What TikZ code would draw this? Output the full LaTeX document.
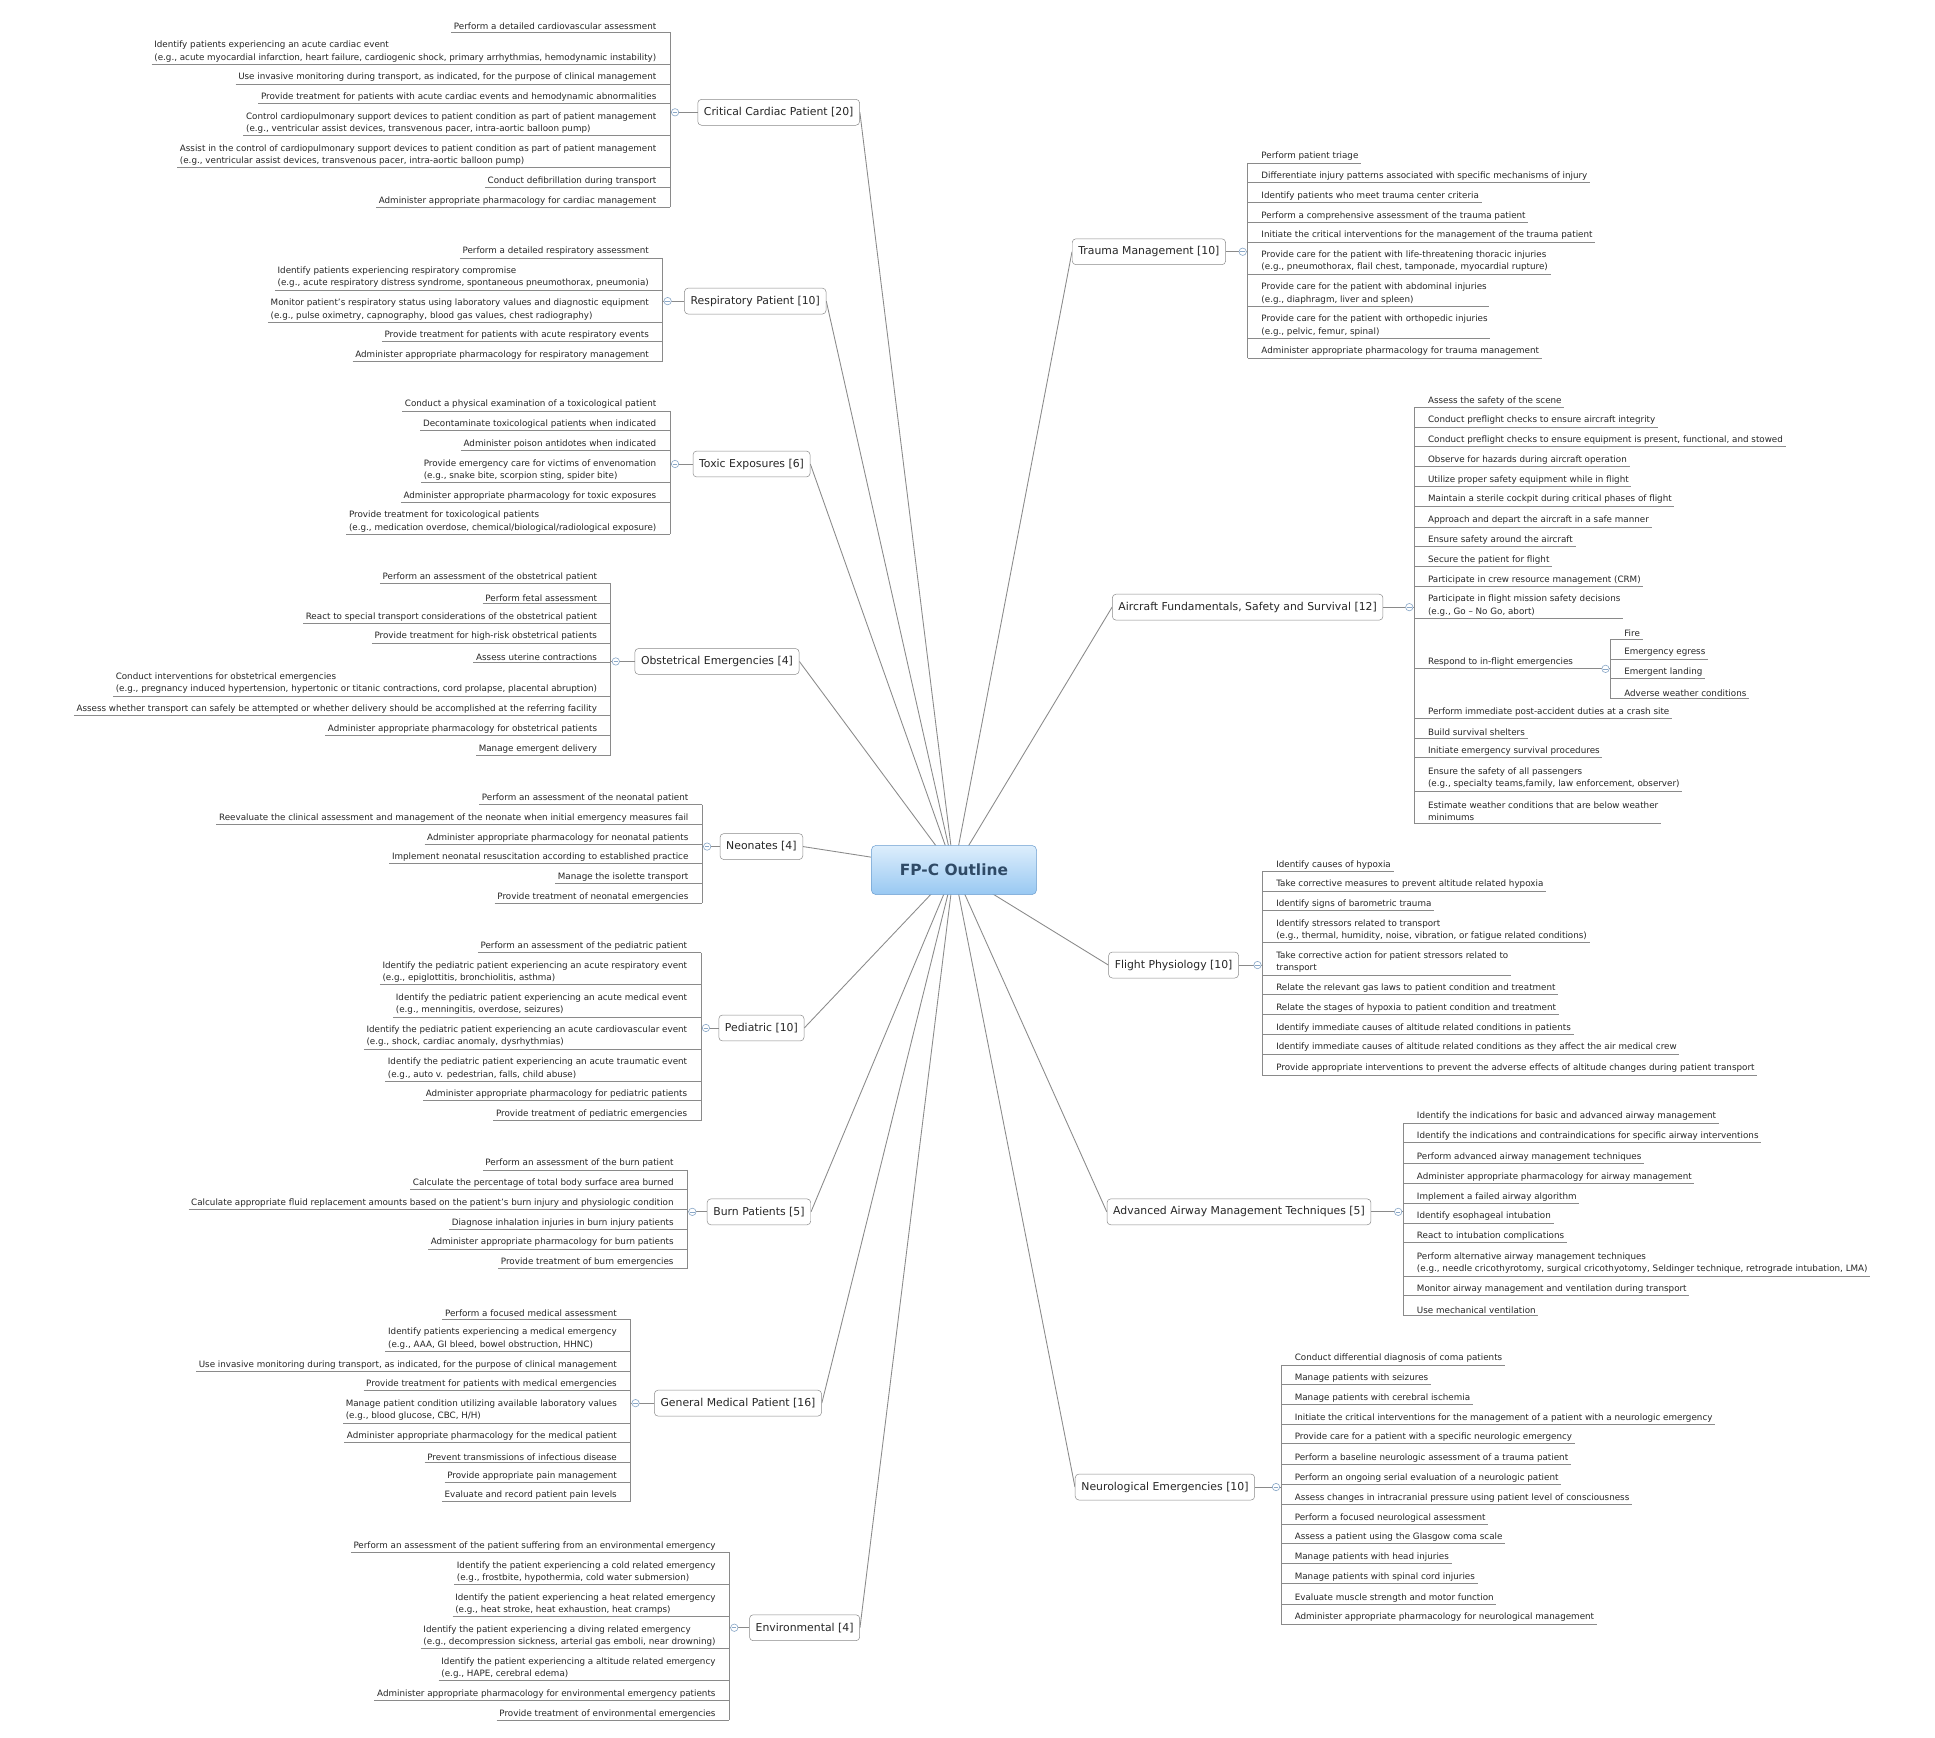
\documentclass[tikz,border=0pt]{standalone}
\usepackage{fontspec}
\setmainfont{DejaVu Sans}
\usetikzlibrary{backgrounds}
\definecolor{lc}{HTML}{8A8A8A}
\definecolor{tc}{HTML}{262626}
\definecolor{kc}{HTML}{8AA8C8}
\definecolor{ctop}{HTML}{DDEEFC}
\definecolor{cbot}{HTML}{98C8F2}
\definecolor{cbd}{HTML}{6E9FD0}
\definecolor{ctxt}{HTML}{2F4A66}
\tikzset{
 leaf/.style={font=\fontsize{7.1}{10}\selectfont, text=tc, inner xsep=2pt, inner ysep=1.6pt, align=left},
 ul/.style={draw=lc, line width=0.6pt},
 br/.style={draw=lc, fill=white, rounded corners=3pt, font=\fontsize{8.8}{10}\selectfont, text=tc, inner xsep=5pt, minimum height=21pt},
 knob/.style={circle, draw=kc, fill=white, minimum size=6pt, inner sep=0pt, line width=0.5pt,
   path picture={\draw[kc,line width=0.5pt] ([xshift=-1.8pt]path picture bounding box.center) -- ([xshift=1.8pt]path picture bounding box.center);}},
 conn/.style={draw=lc, line width=0.7pt},
}
\newcommand\LG[5]{%
 \foreach \u/\t [count=\i] in {#5} {%
  \node[leaf, anchor=south east] (#2\i) at ({#1-9},\u) {\t};
  \draw[ul] (#2\i.south west) -- (#1,\u);}
 \draw[ul] (#1,#3) -- (#1,#4);}
\newcommand\RG[5]{%
 \foreach \u/\t [count=\i] in {#5} {%
  \node[leaf, anchor=south west] (#2\i) at ({#1+9},\u) {\t};
  \draw[ul] (#1,\u) -- (#2\i.south east);}
 \draw[ul] (#1,#3) -- (#1,#4);}
\newcommand\BL[5]{%
 \node[br] (#1) at (#2,#3) {#5};
 \draw[ul] (#1.west) -- (#4,#3);
 \node[knob] (#1k) at ({#4+4},#3) {};
 \begin{scope}[on background layer]\draw[conn] (ctr.center) -- (#1.east);\end{scope}}
\newcommand\BR[5]{%
 \node[br] (#1) at (#2,#3) {#5};
 \draw[ul] (#1.east) -- (#4,#3);
 \node[knob] (#1k) at ({#4-4},#3) {};
 \begin{scope}[on background layer]\draw[conn] (ctr.center) -- (#1.west);\end{scope}}
\begin{document}
\begin{tikzpicture}[x=1pt,y=-1pt]
\useasboundingbox (0,0) rectangle (1568,1408);
\begin{scope}[on background layer]\fill[white] (0,0) rectangle (1568,1408);\end{scope}
\node[draw=cbd, rounded corners=4pt, top color=ctop, bottom color=cbot, minimum width=134pt, minimum height=40pt,
  font=\bfseries\fontsize{12.5}{14}\selectfont, text=ctxt] (ctr) at (773,705) {FP-C Outline};

% ---------- LEFT ----------
\BL{cc}{631}{91}{543}{Critical Cardiac Patient [20]}
\LG{543}{cc}{26}{168}{26/{Perform a detailed cardiovascular assessment},
52/{Identify patients experiencing an acute cardiac event\\(e.g., acute myocardial infarction, heart failure, cardiogenic shock, primary arrhythmias, hemodynamic instability)},
68/{Use invasive monitoring during transport, as indicated, for the purpose of clinical management},
84/{Provide treatment for patients with acute cardiac events and hemodynamic abnormalities},
110/{Control cardiopulmonary support devices to patient condition as part of patient management\\(e.g., ventricular assist devices, transvenous pacer, intra-aortic balloon pump)},
136/{Assist in the control of cardiopulmonary support devices to patient condition as part of patient management\\(e.g., ventricular assist devices, transvenous pacer, intra-aortic balloon pump)},
152/{Conduct defibrillation during transport},
168/{Administer appropriate pharmacology for cardiac management}}

\BL{rp}{612}{244}{537}{Respiratory Patient [10]}
\LG{537}{rp}{209}{293}{209/{Perform a detailed respiratory assessment},
235/{Identify patients experiencing respiratory compromise\\(e.g., acute respiratory distress syndrome, spontaneous pneumothorax, pneumonia)},
261/{Monitor patient’s respiratory status using laboratory values and diagnostic equipment\\(e.g., pulse oximetry, capnography, blood gas values, chest radiography)},
277/{Provide treatment for patients with acute respiratory events},
293/{Administer appropriate pharmacology for respiratory management}}

\BL{tx}{609}{376}{543}{Toxic Exposures [6]}
\LG{543}{tx}{333}{433}{333/{Conduct a physical examination of a toxicological patient},
349/{Decontaminate toxicological patients when indicated},
365/{Administer poison antidotes when indicated},
391/{Provide emergency care for victims of envenomation\\(e.g., snake bite, scorpion sting, spider bite)},
407/{Administer appropriate pharmacology for toxic exposures},
433/{Provide treatment for toxicological patients\\(e.g., medication overdose, chemical/biological/radiological exposure)}}

\BL{ob}{581}{536}{495}{Obstetrical Emergencies [4]}
\LG{495}{ob}{473}{612}{473/{Perform an assessment of the obstetrical patient},
489/{Perform fetal assessment},
505/{React to special transport considerations of the obstetrical patient},
521/{Provide treatment for high-risk obstetrical patients},
537/{Assess uterine contractions},
564/{Conduct interventions for obstetrical emergencies\\(e.g., pregnancy induced hypertension, hypertonic or titanic contractions, cord prolapse, placental abruption)},
580/{Assess whether transport can safely be attempted or whether delivery should be accomplished at the referring facility},
596/{Administer appropriate pharmacology for obstetrical patients},
612/{Manage emergent delivery}}

\BL{ne}{617}{686}{569}{Neonates [4]}
\LG{569}{ne}{652}{732}{652/{Perform an assessment of the neonatal patient},
668/{Reevaluate the clinical assessment and management of the neonate when initial emergency measures fail},
684/{Administer appropriate pharmacology for neonatal patients},
700/{Implement neonatal resuscitation according to established practice},
716/{Manage the isolette transport},
732/{Provide treatment of neonatal emergencies}}

\BL{pd}{617}{833}{568}{Pediatric [10]}
\LG{568}{pd}{772}{908}{772/{Perform an assessment of the pediatric patient},
798/{Identify the pediatric patient experiencing an acute respiratory event\\(e.g., epiglottitis, bronchiolitis, asthma)},
824/{Identify the pediatric patient experiencing an acute medical event\\(e.g., menningitis, overdose, seizures)},
850/{Identify the pediatric patient experiencing an acute cardiovascular event\\(e.g., shock, cardiac anomaly, dysrhythmias)},
876/{Identify the pediatric patient experiencing an acute traumatic event\\(e.g., auto v. pedestrian, falls, child abuse)},
892/{Administer appropriate pharmacology for pediatric patients},
908/{Provide treatment of pediatric emergencies}}

\BL{bu}{615}{982}{557}{Burn Patients [5]}
\LG{557}{bu}{948}{1028}{948/{Perform an assessment of the burn patient},
964/{Calculate the percentage of total body surface area burned},
980/{Calculate appropriate fluid replacement amounts based on the patient’s burn injury and physiologic condition},
996/{Diagnose inhalation injuries in burn injury patients},
1012/{Administer appropriate pharmacology for burn patients},
1028/{Provide treatment of burn emergencies}}

\BL{gm}{598}{1137}{511}{General Medical Patient [16]}
\LG{511}{gm}{1069}{1217}{1069/{Perform a focused medical assessment},
1095/{Identify patients experiencing a medical emergency\\(e.g., AAA, GI bleed, bowel obstruction, HHNC)},
1111/{Use invasive monitoring during transport, as indicated, for the purpose of clinical management},
1127/{Provide treatment for patients with medical emergencies},
1153/{Manage patient condition utilizing available laboratory values\\(e.g., blood glucose, CBC, H/H)},
1169/{Administer appropriate pharmacology for the medical patient},
1185/{Prevent transmissions of infectious disease},
1201/{Provide appropriate pain management},
1217/{Evaluate and record patient pain levels}}

\BL{en}{652}{1319}{591}{Environmental [4]}
\LG{591}{en}{1258}{1394}{1258/{Perform an assessment of the patient suffering from an environmental emergency},
1284/{Identify the patient experiencing a cold related emergency\\(e.g., frostbite, hypothermia, cold water submersion)},
1310/{Identify the patient experiencing a heat related emergency\\(e.g., heat stroke, heat exhaustion, heat cramps)},
1336/{Identify the patient experiencing a diving related emergency\\(e.g., decompression sickness, arterial gas emboli, near drowning)},
1362/{Identify the patient experiencing a altitude related emergency\\(e.g., HAPE, cerebral edema)},
1378/{Administer appropriate pharmacology for environmental emergency patients},
1394/{Provide treatment of environmental emergencies}}

% ---------- RIGHT ----------
\BR{tm}{931}{204}{1011}{Trauma Management [10]}
\RG{1011}{tm}{132}{290}{132/{Perform patient triage},
148/{Differentiate injury patterns associated with specific mechanisms of injury},
164/{Identify patients who meet trauma center criteria},
180/{Perform a comprehensive assessment of the trauma patient},
196/{Initiate the critical interventions for the management of the trauma patient},
222/{Provide care for the patient with life-threatening thoracic injuries\\(e.g., pneumothorax, flail chest, tamponade, myocardial rupture)},
248/{Provide care for the patient with abdominal injuries\\(e.g., diaphragm, liver and spleen)},
274/{Provide care for the patient with orthopedic injuries\\(e.g., pelvic, femur, spinal)},
290/{Administer appropriate pharmacology for trauma management}}

\BR{af}{1011}{492}{1146}{Aircraft Fundamentals, Safety and Survival [12]}
\RG{1146}{af}{330}{667}{330/{Assess the safety of the scene},
346/{Conduct preflight checks to ensure aircraft integrity},
362/{Conduct preflight checks to ensure equipment is present, functional, and stowed},
378/{Observe for hazards during aircraft operation},
394/{Utilize proper safety equipment while in flight},
410/{Maintain a sterile cockpit during critical phases of flight},
427/{Approach and depart the aircraft in a safe manner},
443/{Ensure safety around the aircraft},
459/{Secure the patient for flight},
475/{Participate in crew resource management (CRM)},
501/{Participate in flight mission safety decisions\\(e.g., Go – No Go, abort)},
542/{Respond to in-flight emergencies},
582/{Perform immediate post-accident duties at a crash site},
598/{Build survival shelters},
614/{Initiate emergency survival procedures},
641/{Ensure the safety of all passengers\\(e.g., specialty teams,family, law enforcement, observer)},
667/{Estimate weather conditions that are below weather\\minimums}}
\draw[ul] (af12.south east) -- (1305,542);
\node[knob] (afk2) at (1301,542) {};
\RG{1305}{sub}{518}{566}{518/{Fire},534/{Emergency egress},550/{Emergent landing},566/{Adverse weather conditions}}

\BR{fp}{951}{782}{1023}{Flight Physiology [10]}
\RG{1023}{fp}{706}{871}{706/{Identify causes of hypoxia},
722/{Take corrective measures to prevent altitude related hypoxia},
738/{Identify signs of barometric trauma},
764/{Identify stressors related to transport\\(e.g., thermal, humidity, noise, vibration, or fatigue related conditions)},
790/{Take corrective action for patient stressors related to\\transport},
806/{Relate the relevant gas laws to patient condition and treatment},
822/{Relate the stages of hypoxia to patient condition and treatment},
838/{Identify immediate causes of altitude related conditions in patients},
854/{Identify immediate causes of altitude related conditions as they affect the air medical crew},
871/{Provide appropriate interventions to prevent the adverse effects of altitude changes during patient transport}}

\BR{aw}{1004}{982}{1137}{Advanced Airway Management Techniques [5]}
\RG{1137}{aw}{910}{1066}{910/{Identify the indications for basic and advanced airway management},
926/{Identify the indications and contraindications for specific airway interventions},
943/{Perform advanced airway management techniques},
959/{Administer appropriate pharmacology for airway management},
975/{Implement a failed airway algorithm},
991/{Identify esophageal intubation},
1007/{React to intubation complications},
1034/{Perform alternative airway management techniques\\(e.g., needle cricothyrotomy, surgical cricothyotomy, Seldinger technique, retrograde intubation, LMA)},
1050/{Monitor airway management and ventilation during transport},
1066/{Use mechanical ventilation}}

\BR{nu}{944}{1205}{1038}{Neurological Emergencies [10]}
\RG{1038}{nu}{1106}{1316}{1106/{Conduct differential diagnosis of coma patients},
1122/{Manage patients with seizures},
1138/{Manage patients with cerebral ischemia},
1154/{Initiate the critical interventions for the management of a patient with a neurologic emergency},
1170/{Provide care for a patient with a specific neurologic emergency},
1187/{Perform a baseline neurologic assessment of a trauma patient},
1203/{Perform an ongoing serial evaluation of a neurologic patient},
1219/{Assess changes in intracranial pressure using patient level of consciousness},
1235/{Perform a focused neurological assessment},
1251/{Assess a patient using the Glasgow coma scale},
1267/{Manage patients with head injuries},
1283/{Manage patients with spinal cord injuries},
1300/{Evaluate muscle strength and motor function},
1316/{Administer appropriate pharmacology for neurological management}}
\end{tikzpicture}
\end{document}
